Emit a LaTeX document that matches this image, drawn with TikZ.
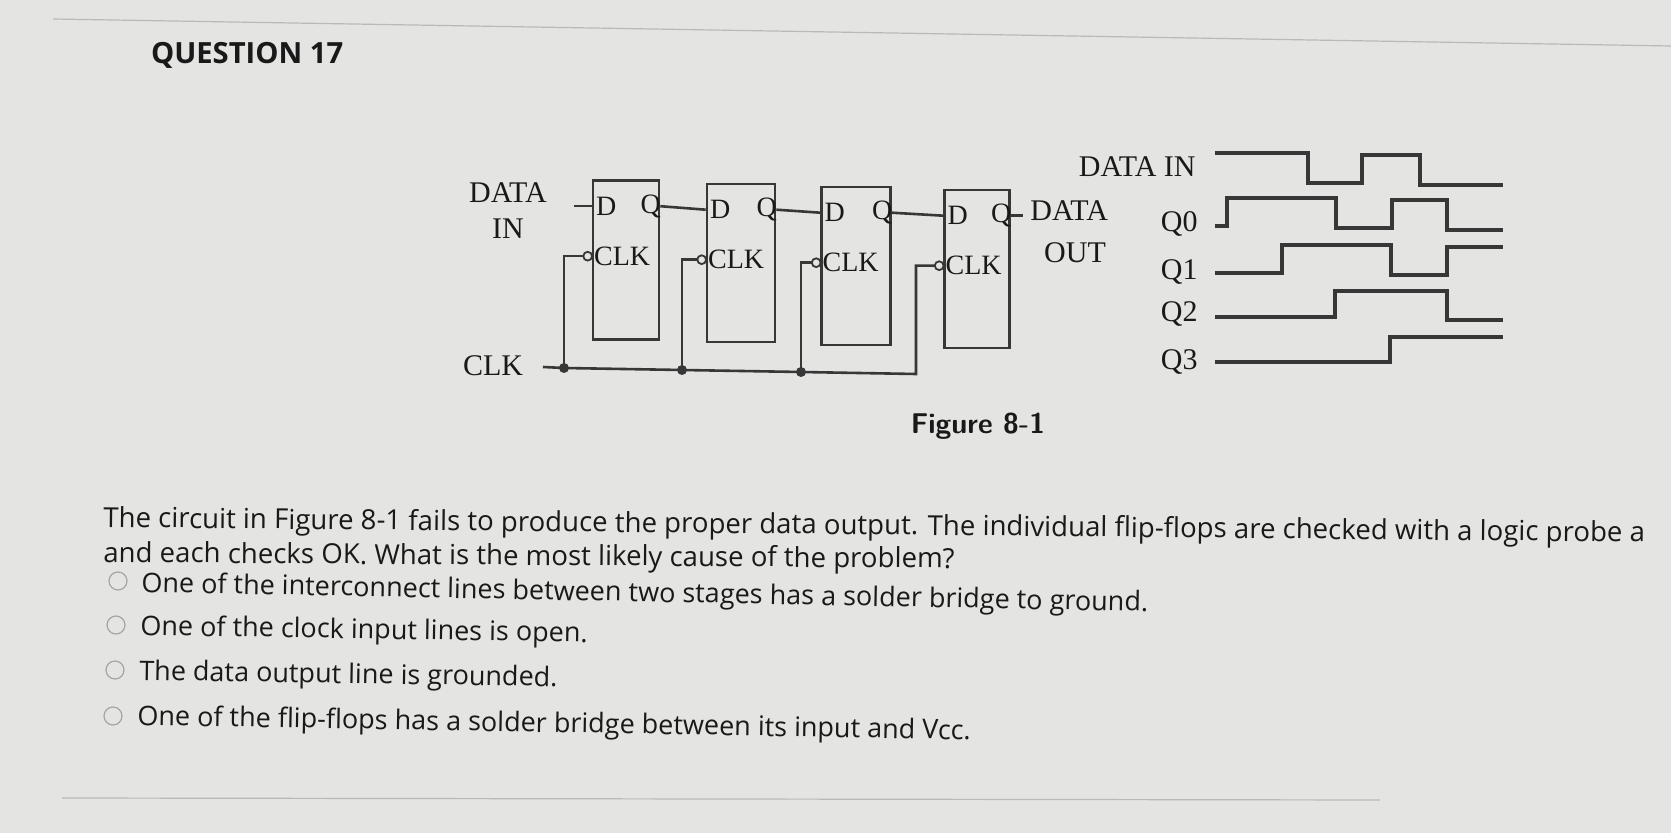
\documentclass[tikz,border=0pt]{standalone}
\usepackage{fontspec}
\setmainfont{Liberation Serif}
\newfontfamily\qfont{Open Sans}
\usetikzlibrary{calc}
\definecolor{bg}{RGB}{228,229,226}
\definecolor{ink}{RGB}{55,55,55}
\definecolor{txt}{RGB}{25,25,25}
\begin{document}
\begin{tikzpicture}[x=0.5pt,y=-0.5pt,
  ff/.style={draw=ink,line width=1.3pt,rectangle,inner sep=0pt},
  wire/.style={draw=ink,line width=1.3pt},
  wave/.style={draw=ink,line width=1.6pt},
  lbl/.style={font=\fontsize{15}{15}\selectfont,text=txt,inner sep=0pt},
  pin/.style={font=\fontsize{14}{14}\selectfont,text=txt,inner sep=0pt},
  q/.style={font=\qfont\fontsize{13.8}{14}\selectfont,text=txt,inner sep=0pt,anchor=west},
  qa/.style={q,font=\qfont\fontsize{13.5}{14}\selectfont},
  opt/.style={draw=ink!45,line width=0.6pt,circle,minimum size=9pt,inner sep=0pt},
  dot/.style={circle,fill=ink,inner sep=0pt,minimum size=5pt}]
\fill[bg] (0,0) rectangle (1671,833);
\useasboundingbox (0,0) rectangle (1671,833);
% rules
\draw[ink!35,line width=0.6pt] (53,19) -- (1671,46);
\draw[ink!35,line width=0.6pt] (62,798) -- (1380,800);
\node[font=\qfont\bfseries\fontsize{14.6}{15}\selectfont,text=txt,anchor=west] (title) at (144,55) {QUESTION 17};
% flip-flops
\node[ff,minimum width=33pt,minimum height=79.5pt] (f1) at (626,260) {};
\node[ff,minimum width=34pt,minimum height=79pt] (f2) at (741,263) {};
\node[ff,minimum width=34.5pt,minimum height=79pt] (f3) at (856,266) {};
\node[ff,minimum width=32.5pt,minimum height=79pt] (f4) at (977,269) {};
\foreach \f in {f1,f2,f3,f4}{
  \coordinate (\f d) at ($(\f.north west)+(0,27)$);
  \coordinate (\f q) at ($(\f.north east)+(0,27)$);
  \coordinate (\f c) at ($(\f.north west)+(0,77)$);
  \node[pin,anchor=west] at ($(\f d)+(4,0)$) {D};
  \node[pin,anchor=east] at ($(\f q)+(1,0)$) {Q};
  \node[pin,anchor=west] at ($(\f c)+(2,0)$) {CLK};
  \draw[ink,line width=0.9pt] ($(\f c)+(-4,0)$) circle (2.2pt);
}
% data connections
\coordinate (din) at ($(f1d)+(-18,0)$);
\draw[wire] (din) -- (f1d);
\draw[wire] (f1q) -- (f2d);
\draw[wire] (f2q) -- (f3d);
\draw[wire] (f3q) -- (f4d);
\coordinate (dout) at ($(f4q)+(12,0)$);
\draw[wire] (f4q) -- (dout);
% clock
\coordinate (cb0) at (543,367);
\coordinate (cb1) at (564,368);
\coordinate (cb2) at (682,370);
\coordinate (cb3) at (801,372);
\coordinate (cb4) at (916,374);
\draw[wire] (cb0) -- (cb1) -- (cb2) -- (cb3) -- (cb4) -- (cb4 |- f4c) -- ($(f4c)+(-8,0)$);
\draw[wire] (cb1) -- (cb1 |- f1c) -- ($(f1c)+(-8,0)$);
\draw[wire] (cb2) -- (cb2 |- f2c) -- ($(f2c)+(-8,0)$);
\draw[wire] (cb3) -- (cb3 |- f3c) -- ($(f3c)+(-8,0)$);
\foreach \c in {cb1,cb2,cb3} \node[dot] at (\c) {};
% labels
\node[lbl] (lda) at (508,193) {DATA};
\node[lbl] (lin) at (508,229) {IN};
\node[lbl] (lclk) at (493,366) {CLK};
\node[lbl,anchor=west] (lout1) at (1030,211) {DATA};
\node[lbl] (lout2) at (1075,253) {OUT};
\node[font=\sffamily\bfseries\fontsize{14.3}{15}\selectfont,text=txt,inner sep=0pt] (fig) at (978,426) {Figure 8-1};
% waveform labels
\node[lbl,anchor=east] (wdi) at (1196,167) {DATA IN};
\node[lbl,anchor=east] (wq0) at (1198,224) {Q0};
\node[lbl,anchor=east] (wq1) at (1198,272) {Q1};
\node[lbl,anchor=east] (wq2) at (1198,314) {Q2};
\node[lbl,anchor=east] (wq3) at (1198,362) {Q3};
% waveforms
\draw[wave] (1215,153) -- (1308,153) -- (1308,183) -- (1362,183) -- (1362,155) -- (1420,155) -- (1420,185) -- (1503,185);
\draw[wave] (1215,226) -- (1227,226) -- (1227,198) -- (1336,198) -- (1336,228) -- (1392,228) -- (1392,200) -- (1447,200) -- (1447,230) -- (1503,230);
\draw[wave] (1215,273) -- (1282,273) -- (1282,245) -- (1391,245) -- (1391,275) -- (1447,275) -- (1447,247) -- (1503,247);
\draw[wave] (1215,317) -- (1335,317) -- (1335,291) -- (1447,291) -- (1447,320) -- (1503,320);
\draw[wave] (1215,362) -- (1390,362) -- (1390,337) -- (1503,337);
% question text
\node[q,rotate=-0.55] (t1) at (103,520) {The circuit in Figure 8-1 fails to produce the proper data output. The individual flip-flops are checked with a logic probe a};
\node[q,rotate=-0.4] (t2) at (103,555) {and each checks OK. What is the most likely cause of the problem?};
\node[opt] (o1) at (118,581) {};
\node[opt] (o2) at (116,625) {};
\node[opt] (o3) at (115,670) {};
\node[opt] (o4) at (113,716) {};
\node[qa,rotate=-1.1] (a1) at (141,585) {One of the interconnect lines between two stages has a solder bridge to ground.};
\node[qa,rotate=-0.9] (a2) at (140,628) {One of the clock input lines is open.};
\node[qa,rotate=-0.9] (a3) at (139,673) {The data output line is grounded.};
\node[qa,rotate=-1.0] (a4) at (137,718) {One of the flip-flops has a solder bridge between its input and Vcc.};
\end{tikzpicture}
\end{document}
